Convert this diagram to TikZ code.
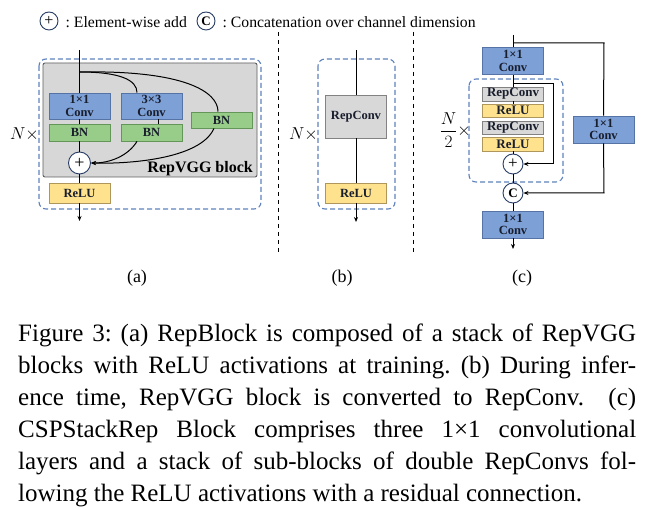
\documentclass[tikz,border=0pt]{standalone}
\usepackage{fontspec}
\setmainfont{Liberation Serif}
\usetikzlibrary{arrows.meta}
\frenchspacing
\definecolor{convfill}{RGB}{125,160,215}
\definecolor{convdraw}{RGB}{85,115,165}
\definecolor{bnfill}{RGB}{152,205,137}
\definecolor{bndraw}{RGB}{100,150,90}
\definecolor{relufill}{RGB}{255,226,142}
\definecolor{reludraw}{RGB}{175,150,90}
\definecolor{repfill}{RGB}{216,216,216}
\definecolor{repdraw}{RGB}{130,130,130}
\definecolor{blockfill}{RGB}{215,215,215}
\definecolor{blockdraw}{RGB}{95,95,95}
\definecolor{dashblue}{RGB}{95,130,190}
\definecolor{circdraw}{RGB}{40,60,100}
\definecolor{labtext}{RGB}{25,30,45}
\tikzset{
  box/.style={draw, line width=0.8pt, minimum width=61pt, inner sep=0pt, align=center, text=labtext, font=\fontsize{12.5}{12.5}\selectfont\bfseries},
  convbox/.style={box, fill=convfill, draw=convdraw},
  bnbox/.style={box, fill=bnfill, draw=bndraw},
  relubox/.style={box, fill=relufill, draw=reludraw},
  repbox/.style={box, fill=repfill, draw=repdraw},
  opcirc/.style={circle, draw=circdraw, line width=0.9pt, fill=white, inner sep=0pt, minimum size=#1},
  conn/.style={line width=1pt, black},
  arr/.style={conn, -{Stealth[length=5pt,width=4pt]}},
  dashbox/.style={draw=dashblue, line width=1.1pt, dash pattern=on 5pt off 3pt, rounded corners=7pt},
  sep/.style={line width=0.9pt, dash pattern=on 4pt off 4pt},
  lab/.style={font=\fontsize{18}{18}\selectfont, inner sep=0pt},
}
\begin{document}
\begin{tikzpicture}[x=1pt,y=-1pt]
\useasboundingbox[fill=white] (0,0) rectangle (654,510);

% legend
\node[opcirc=18pt, font=\fontsize{16}{16}\selectfont] (lp) at (49,21) {+};
\node[anchor=base west, inner sep=0pt, font=\fontsize{15.7}{15.7}\selectfont] (lt1) at (65.5,27.5) {: Element-wise add};
\node[opcirc=18pt, font=\fontsize{13}{13}\selectfont\bfseries] (lc) at (206,21) {C};
\node[anchor=base west, inner sep=0pt, font=\fontsize{15.7}{15.7}\selectfont] (lt2) at (222.5,27.5) {: Concatenation over channel dimension};

% separators
\coordinate (s1t) at (278.5,32); \coordinate (s1b) at (278.5,252);
\coordinate (s2t) at (413,32); \coordinate (s2b) at (413,252);
\draw[sep] (s1t) -- (s1b);
\draw[sep] (s2t) -- (s2b);

% ---------------- panel (a)
\draw[dashbox] (39,59) rectangle (261,209);
\node[draw=blockdraw, fill=blockfill, line width=0.9pt, rounded corners=2pt, minimum width=214pt, minimum height=114pt, inner sep=0pt] (blk) at (150,120) {};
\coordinate (atop) at (79.5,50);
\coordinate (asplit) at (79.5,72);
\node[convbox, minimum height=26pt] (c1) at (79.5,106) {1×1\\Conv};
\node[bnbox, minimum height=17pt] (b1) at (79.5,132.5) {BN};
\node[convbox, minimum height=26pt] (c3) at (151.5,106) {3×3\\Conv};
\node[bnbox, minimum height=17pt] (b2) at (151.5,132.5) {BN};
\node[bnbox, minimum height=16pt] (b3) at (221.5,120) {BN};
\node[opcirc=22pt, font=\fontsize{18}{18}\selectfont] (adda) at (79.5,163) {+};
\node[relubox, minimum height=20pt] (ra) at (79.5,193) {ReLU};
\coordinate (aend) at (79.5,221);
\node[anchor=base east, inner sep=0pt, font=\fontsize{16}{16}\selectfont\bfseries] (rvgg) at (253,173) {RepVGG block};
\node[anchor=east, inner sep=0pt, font=\fontsize{17}{17}\selectfont] (na) at (39,134) {$N\times$};

\draw[conn] (atop) -- (c1.north);
\draw[conn] (c1.south) -- (b1.north);
\draw[conn] (b1.south) -- (adda.north);
\draw[conn] (adda.south) -- (ra.north);
\draw[arr] (ra.south) -- (aend);
\draw[conn] (asplit) .. controls (120,72) and (137,80) .. (c3.north -| 137,0);
\draw[conn] (c3.south -| 158,0) -- (b2.north -| 158,0);
\draw[conn] (asplit) .. controls (185,70) and (218,92) .. (b3.north -| 218,0);
\draw[arr] (b2.south -| 137,0) .. controls (128,156) and (110,163) .. (adda.east);
\draw[arr] (b3.south -| 214,0) .. controls (200,160) and (125,164) .. (adda.east);

\node[lab] (la) at (137,278) {(a)};

% ---------------- panel (b)
\draw[dashbox] (318,59) rectangle (395,209);
\coordinate (btop) at (356,50);
\node[repbox, minimum height=43pt, font=\fontsize{12.5}{12.5}\selectfont\bfseries] (rb) at (356,116.5) {RepConv};
\node[relubox, minimum height=20pt] (rlb) at (356,193) {ReLU};
\coordinate (bend) at (356,222);
\draw[conn] (btop) -- (rb.north);
\draw[conn] (rb.south) -- (rlb.north);
\draw[arr] (rlb.south) -- (bend);
\node[anchor=east, inner sep=0pt, font=\fontsize{17}{17}\selectfont] (nb) at (318,134) {$N\times$};
\node[lab] (lb) at (342,278) {(b)};

% ---------------- panel (c)
\draw[dashbox] (469,79) rectangle (563,182);
\coordinate (ctop) at (513,35);
\coordinate (csplit) at (513,43);
\coordinate (ccorner1) at (604,43);
\coordinate (ccorner2) at (604,193);
\node[convbox, minimum height=27pt] (ct) at (513,61) {1×1\\Conv};
\coordinate (rsplit) at (513,84);
\coordinate (rcorner1) at (553,84);
\coordinate (rcorner2) at (553,164);
\node[repbox, minimum height=14pt, font=\fontsize{13}{13}\selectfont\bfseries] (rc1) at (513,94) {RepConv};
\node[relubox, minimum height=13pt, font=\fontsize{13}{13}\selectfont\bfseries] (rl1) at (513,110.5) {ReLU};
\node[repbox, minimum height=13pt, font=\fontsize{13}{13}\selectfont\bfseries] (rc2) at (513,127.5) {RepConv};
\node[relubox, minimum height=14pt, font=\fontsize{13}{13}\selectfont\bfseries] (rl2) at (513,144) {ReLU};
\node[opcirc=20pt, font=\fontsize{17}{17}\selectfont] (addc) at (513,164) {+};
\node[opcirc=20pt, font=\fontsize{13}{13}\selectfont\bfseries] (cat) at (513,193) {C};
\node[convbox, minimum height=27pt] (cb) at (513,224.5) {1×1\\Conv};
\coordinate (cend) at (513,249);
\node[convbox, minimum height=27pt] (cr) at (603.5,129.5) {1×1\\Conv};
\node[anchor=east, inner sep=0pt, font=\fontsize{16}{16}\selectfont] (nc) at (471,130) {$\displaystyle\frac{N}{2}\times$};

\draw[conn] (ctop) -- (ct.north);
\draw[conn] (ct.south) -- (rc1.north);
\draw[conn] (rc1.south) -- (rl1.north);
\draw[conn] (rl2.south) -- (addc.north);
\draw[conn] (addc.south) -- (cat.north);
\draw[conn] (cat.south) -- (cb.north);
\draw[arr] (cb.south) -- (cend);
\draw[conn] (csplit) -- (ccorner1) -- (cr.north);
\draw[arr] (cr.south) -- (ccorner2) -- (cat.east);
\draw[arr] (rsplit) -- (rcorner1) -- (rcorner2) -- (addc.east);
\node[lab] (lc2) at (522,278) {(c)};

% ---------------- caption
\begin{scope}[every node/.style={anchor=base west, inner sep=0pt, font=\fontsize{25}{32}\selectfont}]
\node (cap1) at (18,342) {\makebox[618pt][s]{Figure 3: (a) RepBlock is composed of a stack of RepVGG}};
\node (cap2) at (18,374) {\makebox[618pt][s]{blocks with ReLU activations at training. (b) During infer-}};
\node (cap3) at (18,406) {\makebox[618pt][s]{ence time, RepVGG block is converted to RepConv. \ (c)}};
\node (cap4) at (18,438) {\makebox[618pt][s]{CSPStackRep Block comprises three 1×1 convolutional}};
\node (cap5) at (18,470) {\makebox[618pt][s]{layers and a stack of sub-blocks of double RepConvs fol-}};
\node (cap6) at (18,502) {lowing the ReLU activations with a residual connection.};
\end{scope}
\end{tikzpicture}
\end{document}
